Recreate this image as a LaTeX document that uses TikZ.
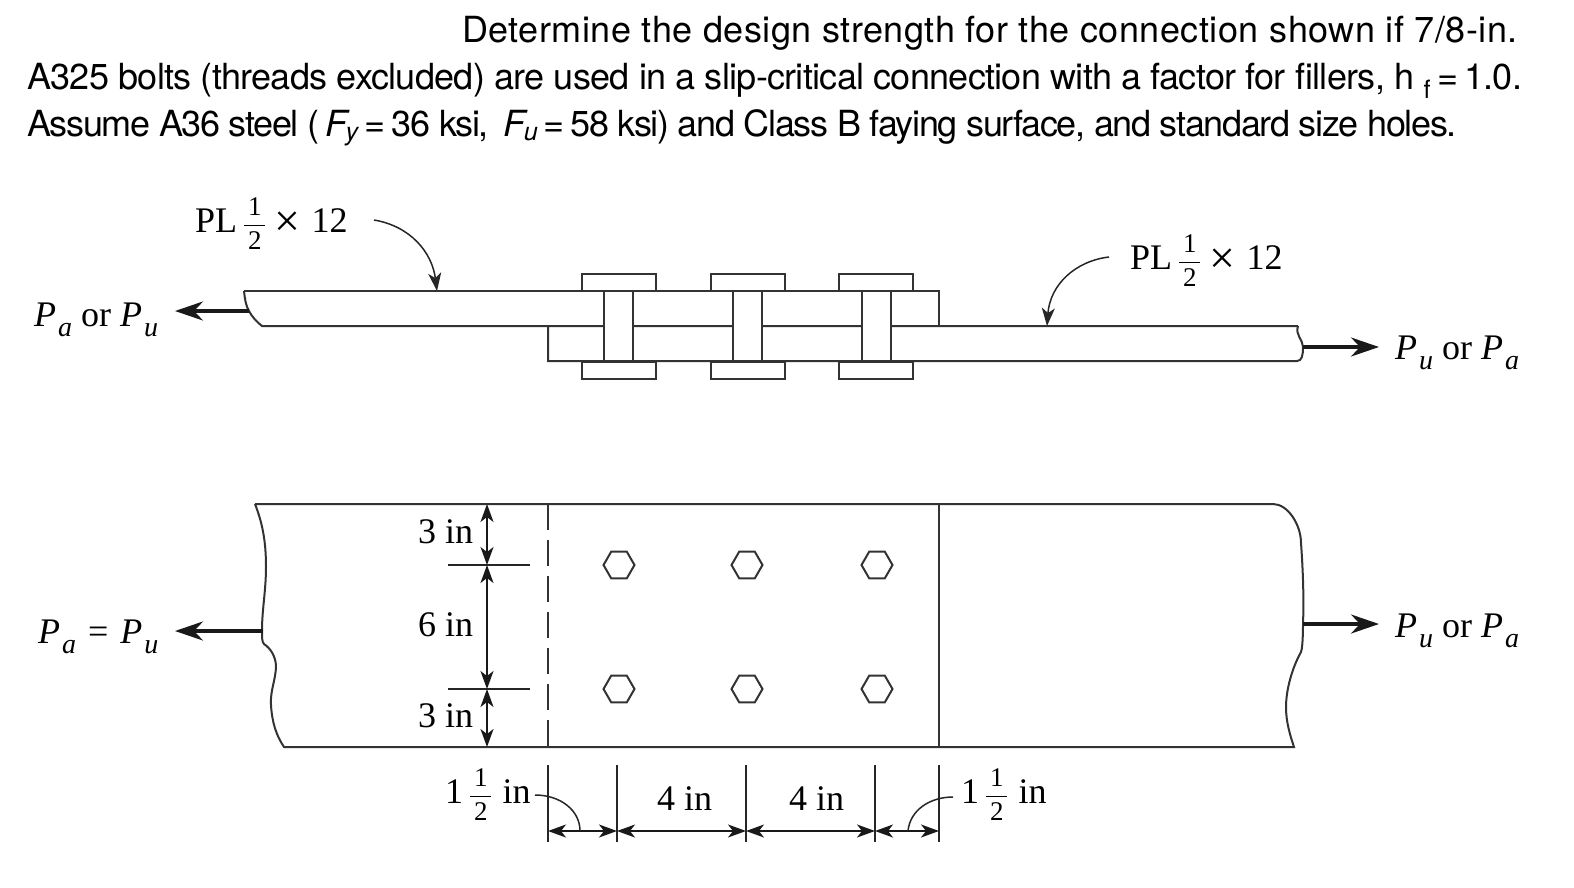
\documentclass[tikz,border=0pt]{standalone}
\usepackage{amsmath}
\usepackage{fontspec}
\usepackage{tikz}
\usetikzlibrary{arrows.meta,shapes.geometric}
\setmainfont{TeX Gyre Heros}
\newfontfamily\labelfont{Liberation Serif}
\newcommand{\halfdigit}[1]{\mbox{\makebox[21pt]{\fontsize{27}{27}\selectfont\labelfont #1}}}
\newcommand{\halfmark}{\,$\genfrac{}{}{1pt}{0}{\halfdigit{1}}{\halfdigit{2}}$\,}
\newcommand{\plsize}{PL\halfmark\kern2pt\raisebox{-4pt}{\fontsize{46}{46}\selectfont\texttimes}\kern11pt 12}
\newcommand{\loadsym}[1]{\textit{P}\kern2pt\raisebox{-10pt}{\fontsize{28}{28}\selectfont\textit{#1}}}

\begin{document}
\begin{tikzpicture}[
        x=1pt, y=-1pt,
        platedraw/.style={line width=2pt, draw=black!80},
        thinline/.style={line width=1.5pt, draw=black!85},
        washernode/.style={rectangle, draw=black!80, fill=white, line width=2pt, minimum width=74pt, minimum height=17pt, inner sep=0pt, outer sep=0pt},
        boltnode/.style={rectangle, draw=black!80, fill=white, line width=2pt, minimum width=29pt, minimum height=70pt, inner sep=0pt, outer sep=0pt},
        holenode/.style={regular polygon, regular polygon sides=6, draw=black!80, line width=2pt, minimum size=31pt, inner sep=0pt, outer sep=0pt},
        textline/.style={anchor=base west, inner sep=0pt, font=\fontsize{36}{40}\selectfont},
        labelnode/.style={anchor=base west, inner sep=0pt, font=\fontsize{36}{40}\selectfont\labelfont},
        loadarrow/.style={line width=3.5pt, draw=black!90, -{Stealth[length=28pt,width=19pt,inset=9pt]}},
        dimarrow/.style={line width=1.5pt, draw=black!90, {Stealth[length=18pt,width=13pt,inset=5pt]}-{Stealth[length=18pt,width=13pt,inset=5pt]}}
        ]
            \path[use as bounding box] (0,0) rectangle (1574,887);

            % problem text
            \node[textline, anchor=base east] (T1) at (1518,42) {\addfontfeature{LetterSpace=1.4}Determine the design strength for the connection shown if 7/8-in.};
            \node[textline] (T2) at (27,89) {\addfontfeature{LetterSpace=-2}A325 bolts (threads excluded) are used in a slip-critical connection with a factor for fillers, h \textsubscript{f}\,=\,1.0.};
            \node[textline] (T3) at (27,136) {\addfontfeature{LetterSpace=-3.8}Assume A36 steel (\,\textit{F}\kern-3pt\textsubscript{\textit{y}}\,=\,36 ksi,\, \textit{F}\kern-3pt\textsubscript{\textit{u}}\,=\,58 ksi) and Class B faying surface, and standard size holes.};

            % side view
            \draw[platedraw] (244,291) -- (939,291) -- (939,326);
            \draw[platedraw] (244,291) .. controls (245,300) and (246,306) .. (249,311) .. controls (252,317) and (257,322) .. (262,326) -- (1298,326);
            \draw[platedraw] (548,326) -- (548,361) -- (1297,361) .. controls (1302,361) and (1303,355) .. (1303,347) .. controls (1303,340) and (1295,335) .. (1298,326);

            \node[washernode] (WA) at (619,282.5) {};
            \node[washernode] (WB) at (747.5,282.5) {};
            \node[washernode] (WC) at (876,282.5) {};
            \node[washernode] (WD) at (619,370) {};
            \node[washernode] (WE) at (747.5,370) {};
            \node[washernode] (WF) at (876,370) {};
            \node[boltnode] (BA) at (618.5,326) {};
            \node[boltnode] (BB) at (747.5,326) {};
            \node[boltnode] (BC) at (876,326) {};

            \coordinate (LA) at (249,311);
            \coordinate (LB) at (175,311);
            \coordinate (LC) at (1303,347);
            \coordinate (LD) at (1379,347);
            \draw[loadarrow] (LA) -- (LB);
            \draw[loadarrow] (LC) -- (LD);

            \node[labelnode] (PLA) at (195,232) {\plsize};
            \node[labelnode] (PLB) at (1130,269) {\plsize};
            \coordinate (PA) at (374,220);
            \coordinate (PB) at (437,291);
            \coordinate (PC) at (1109,257);
            \coordinate (PD) at (1047,326);
            \draw[thinline, -{Stealth[length=18pt,width=13pt,inset=5pt]}] (PA) .. controls (410,226) and (432,252) .. (PB);
            \draw[thinline, -{Stealth[length=18pt,width=13pt,inset=5pt]}] (PC) .. controls (1075,261) and (1050,285) .. (PD);

            \node[labelnode] (SA) at (34,326) {\loadsym{a} or \loadsym{u}};
            \node[labelnode] (SB) at (1395,359) {\loadsym{u} or \loadsym{a}};

            % plan view
            \draw[platedraw] (255,504) -- (1273,504) .. controls (1288,504) and (1301,525) .. (1301,543) .. controls (1303,570) and (1304,600) .. (1303,624) .. controls (1303,640) and (1302,650) .. (1301,652) .. controls (1292,668) and (1286,690) .. (1286,707) .. controls (1286,722) and (1290,735) .. (1294,747) -- (284,747) .. controls (276,735) and (272,722) .. (271,705) .. controls (270,690) and (276,680) .. (276,665) .. controls (275,655) and (270,648) .. (264,644) .. controls (262,642) and (262,638) .. (262,630) .. controls (262,610) and (266,590) .. (266,567) .. controls (266,540) and (262,522) .. (255,504);
            \draw[platedraw] (939,504) -- (939,747);
            \draw[platedraw, dash pattern=on 26pt off 10pt] (548,504) -- (548,747);

            \node[holenode] (HA) at (619,565) {};
            \node[holenode] (HB) at (747,565) {};
            \node[holenode] (HC) at (877,565) {};
            \node[holenode] (HD) at (619,689) {};
            \node[holenode] (HE) at (747,689) {};
            \node[holenode] (HF) at (877,689) {};

            \coordinate (LE) at (263,631);
            \coordinate (LF) at (175,631);
            \coordinate (LG) at (1303,624);
            \coordinate (LH) at (1379,624);
            \draw[loadarrow] (LE) -- (LF);
            \draw[loadarrow] (LG) -- (LH);

            \node[labelnode] (SC) at (38,643) {\loadsym{a}\,\,=\,\,\loadsym{u}};
            \node[labelnode] (SD) at (1395,637) {\loadsym{u} or \loadsym{a}};

            % vertical dimensions
            \coordinate (VA) at (487,504);
            \coordinate (VB) at (487,565);
            \coordinate (VC) at (487,689);
            \coordinate (VD) at (487,747);
            \coordinate (VE) at (448,565);
            \coordinate (VF) at (530,565);
            \coordinate (VG) at (448,689);
            \coordinate (VH) at (530,689);
            \draw[thinline] (VE) -- (VF);
            \draw[thinline] (VG) -- (VH);
            \draw[dimarrow] (VA) -- (VB);
            \draw[dimarrow] (VB) -- (VC);
            \draw[dimarrow] (VC) -- (VD);
            \node[labelnode] (DA) at (418,543) {3 in};
            \node[labelnode] (DB) at (418,636) {6 in};
            \node[labelnode] (DC) at (418,727) {3 in};

            % horizontal dimensions
            \coordinate (XA) at (548,765);
            \coordinate (XB) at (617,765);
            \coordinate (XC) at (746,765);
            \coordinate (XD) at (875,765);
            \coordinate (XE) at (939,765);
            \coordinate (YA) at (548,842);
            \coordinate (YB) at (617,842);
            \coordinate (YC) at (746,842);
            \coordinate (YD) at (875,842);
            \coordinate (YE) at (939,842);
            \draw[thinline] (XA) -- (YA);
            \draw[thinline] (XB) -- (YB);
            \draw[thinline] (XC) -- (YC);
            \draw[thinline] (XD) -- (YD);
            \draw[thinline] (XE) -- (YE);
            \coordinate (ZA) at (548,831);
            \coordinate (ZB) at (617,831);
            \coordinate (ZC) at (746,831);
            \coordinate (ZD) at (875,831);
            \coordinate (ZE) at (939,831);
            \draw[dimarrow] (ZA) -- (ZB);
            \draw[dimarrow] (ZB) -- (ZC);
            \draw[dimarrow] (ZC) -- (ZD);
            \draw[dimarrow] (ZD) -- (ZE);

            \node[labelnode] (DD) at (445,803) {1\halfmark\kern4pt in};
            \node[labelnode] (DE) at (657,810) {4 in};
            \node[labelnode] (DF) at (789,810) {4 in};
            \node[labelnode] (DG) at (961,803) {1\halfmark\kern4pt in};
            \coordinate (QA) at (535,795);
            \coordinate (QB) at (580,831);
            \coordinate (QC) at (953,797);
            \coordinate (QD) at (908,831);
            \draw[thinline] (QA) .. controls (560,795) and (580,810) .. (QB);
            \draw[thinline] (QC) .. controls (930,797) and (910,810) .. (QD);
        \end{tikzpicture}
\end{document}
